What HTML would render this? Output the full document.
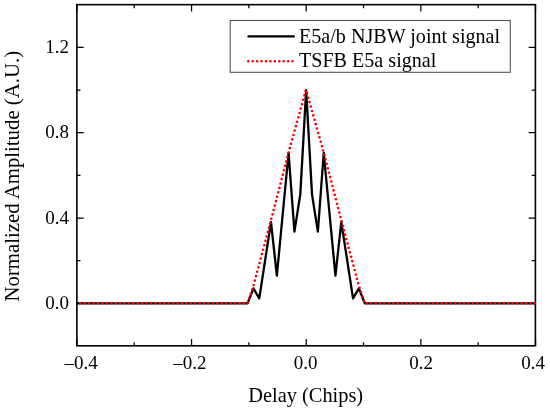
<!DOCTYPE html>
<html><head><meta charset="utf-8"><style>
html,body{margin:0;padding:0;background:#fff;}
svg{display:block;}
text{font-family:"Liberation Serif","Times New Roman",serif;fill:#000;}
</style></head><body>
<svg width="550" height="411" viewBox="0 0 550 411">
<rect width="550" height="411" fill="#fff"/>
<g font-size="19">
<text x="81.0" y="369" text-anchor="middle">–0.4</text>
<text x="189.9" y="369" text-anchor="middle">–0.2</text>
<text x="305.7" y="369" text-anchor="middle">0.0</text>
<text x="421.0" y="369" text-anchor="middle">0.2</text>
<text x="533.2" y="369" text-anchor="middle">0.4</text>
<text x="69" y="308.80" text-anchor="end">0.0</text>
<text x="69" y="223.52" text-anchor="end">0.4</text>
<text x="69" y="138.24" text-anchor="end">0.8</text>
<text x="69" y="52.96" text-anchor="end">1.2</text>
</g>
<text x="305.7" y="401.6" font-size="20.4" text-anchor="middle">Delay (Chips)</text>
<text transform="translate(19.1,176.2) rotate(-90)" font-size="20.8" text-anchor="middle">Normalized Amplitude (A.U.)</text>
<rect x="76.9" y="4.65" width="458.50" height="341.15" fill="none" stroke="#000" stroke-width="1.6"/>
<path d="M76.90,345.8v-6.8M76.90,4.65v6.8M134.22,345.8v-3.6M134.22,4.65v3.6M191.55,345.8v-6.8M191.55,4.65v6.8M248.88,345.8v-3.6M248.88,4.65v3.6M306.20,345.8v-6.8M306.20,4.65v6.8M363.52,345.8v-3.6M363.52,4.65v3.6M420.85,345.8v-6.8M420.85,4.65v6.8M478.18,345.8v-3.6M478.18,4.65v3.6M535.50,345.8v-6.8M535.50,4.65v6.8M76.9,303.30h6.8M535.4,303.30h-6.8M76.9,260.66h3.6M535.4,260.66h-3.6M76.9,218.02h6.8M535.4,218.02h-6.8M76.9,175.38h3.6M535.4,175.38h-3.6M76.9,132.74h6.8M535.4,132.74h-6.8M76.9,90.10h3.6M535.4,90.10h-3.6M76.9,47.46h6.8M535.4,47.46h-6.8" stroke="#000" stroke-width="1.25" fill="none"/>
<polyline points="76.90,303.30 247.55,303.30 253.41,288.38 259.27,298.40 270.99,222.07 276.85,275.58 288.57,152.99 294.43,231.66 300.29,194.35 306.15,90.10 312.01,194.35 317.87,231.66 323.73,152.99 335.45,275.58 341.31,222.07 353.03,298.40 358.89,288.38 364.75,303.30 535.40,303.30" fill="none" stroke="#000" stroke-width="2.3" stroke-linejoin="round"/>
<path d="M80.30,303.30h0.01M84.72,303.30h0.01M89.14,303.30h0.01M93.56,303.30h0.01M97.98,303.30h0.01M102.40,303.30h0.01M106.82,303.30h0.01M111.24,303.30h0.01M115.66,303.30h0.01M120.08,303.30h0.01M124.50,303.30h0.01M128.92,303.30h0.01M133.34,303.30h0.01M137.76,303.30h0.01M142.18,303.30h0.01M146.60,303.30h0.01M151.02,303.30h0.01M155.44,303.30h0.01M159.86,303.30h0.01M164.28,303.30h0.01M168.70,303.30h0.01M173.12,303.30h0.01M177.54,303.30h0.01M181.96,303.30h0.01M186.38,303.30h0.01M190.80,303.30h0.01M195.22,303.30h0.01M199.64,303.30h0.01M204.06,303.30h0.01M208.48,303.30h0.01M212.90,303.30h0.01M217.32,303.30h0.01M221.74,303.30h0.01M226.16,303.30h0.01M230.58,303.30h0.01M235.00,303.30h0.01M239.42,303.30h0.01M243.84,303.30h0.01M247.71,302.83h0.01M249.21,298.37h0.01M250.71,293.92h0.01M252.21,289.46h0.01M253.65,284.99h0.01M254.83,280.58h0.01M256.01,276.17h0.01M257.19,271.76h0.01M258.37,267.35h0.01M259.55,262.94h0.01M260.73,258.53h0.01M261.91,254.12h0.01M263.09,249.71h0.01M264.27,245.30h0.01M265.44,240.89h0.01M266.62,236.48h0.01M267.80,232.07h0.01M268.98,227.66h0.01M270.16,223.25h0.01M271.33,218.84h0.01M272.48,214.42h0.01M273.63,210.01h0.01M274.78,205.59h0.01M275.93,201.17h0.01M277.08,196.75h0.01M278.23,192.33h0.01M279.38,187.92h0.01M280.52,183.50h0.01M281.67,179.08h0.01M282.82,174.66h0.01M283.97,170.24h0.01M285.12,165.83h0.01M286.27,161.41h0.01M287.42,156.99h0.01M288.57,152.57h0.01M289.79,148.17h0.01M291.00,143.77h0.01M292.22,139.37h0.01M293.44,134.97h0.01M294.66,130.57h0.01M295.88,126.17h0.01M297.09,121.77h0.01M298.31,117.37h0.01M299.53,112.98h0.01M300.75,108.58h0.01M301.97,104.18h0.01M303.18,99.78h0.01M304.40,95.38h0.01M305.62,90.98h0.01M307.05,93.32h0.01M308.29,97.72h0.01M309.53,102.12h0.01M310.77,106.53h0.01M312.01,110.93h0.01M313.25,115.33h0.01M314.49,119.74h0.01M315.73,124.14h0.01M316.97,128.55h0.01M318.21,132.95h0.01M319.45,137.35h0.01M320.69,141.76h0.01M321.93,146.16h0.01M323.17,150.56h0.01M324.36,154.98h0.01M325.51,159.41h0.01M326.66,163.84h0.01M327.81,168.26h0.01M328.96,172.69h0.01M330.12,177.12h0.01M331.27,181.55h0.01M332.42,185.97h0.01M333.57,190.40h0.01M334.72,194.83h0.01M335.88,199.26h0.01M337.03,203.69h0.01M338.18,208.11h0.01M339.33,212.54h0.01M340.48,216.97h0.01M341.64,221.39h0.01M342.82,225.81h0.01M344.01,230.23h0.01M345.19,234.65h0.01M346.37,239.07h0.01M347.55,243.49h0.01M348.73,247.91h0.01M349.91,252.33h0.01M351.10,256.75h0.01M352.28,261.17h0.01M353.46,265.59h0.01M354.64,270.01h0.01M355.82,274.43h0.01M357.00,278.85h0.01M358.19,283.27h0.01M359.50,287.70h0.01M361.00,292.16h0.01M362.50,296.61h0.01M364.00,301.07h0.01M503.80,303.30h0.01M499.38,303.30h0.01M494.96,303.30h0.01M490.54,303.30h0.01M486.12,303.30h0.01M481.70,303.30h0.01M477.28,303.30h0.01M472.86,303.30h0.01M468.44,303.30h0.01M464.02,303.30h0.01M459.60,303.30h0.01M455.18,303.30h0.01M450.76,303.30h0.01M446.34,303.30h0.01M441.92,303.30h0.01M437.50,303.30h0.01M433.08,303.30h0.01M428.66,303.30h0.01M424.24,303.30h0.01M419.82,303.30h0.01M415.40,303.30h0.01M410.98,303.30h0.01M406.56,303.30h0.01M402.14,303.30h0.01M397.72,303.30h0.01M393.30,303.30h0.01M388.88,303.30h0.01M384.46,303.30h0.01M380.04,303.30h0.01M375.62,303.30h0.01M371.20,303.30h0.01M366.78,303.30h0.01M508.22,303.30h0.01M512.64,303.30h0.01M517.06,303.30h0.01M521.48,303.30h0.01M525.90,303.30h0.01M530.32,303.30h0.01M534.74,303.30h0.01" stroke="#f00" stroke-width="2.6" stroke-linecap="round" fill="none"/>
<rect x="230.2" y="20.5" width="280.1" height="51.8" fill="#fff" stroke="#555" stroke-width="1.1"/>
<line x1="248.5" y1="36.4" x2="293.8" y2="36.4" stroke="#000" stroke-width="2.4" stroke-linecap="round"/>
<path d="M248.30,61.2h0.01M252.72,61.2h0.01M257.14,61.2h0.01M261.56,61.2h0.01M265.98,61.2h0.01M270.40,61.2h0.01M274.82,61.2h0.01M279.24,61.2h0.01M283.66,61.2h0.01M288.08,61.2h0.01M292.50,61.2h0.01" stroke="#f00" stroke-width="2.6" stroke-linecap="round" fill="none"/>
<g font-size="20.1">
<text x="299" y="42.8">E5a/b NJBW joint signal</text>
<text x="299" y="67.2">TSFB E5a signal</text>
</g>
</svg>
</body></html>
